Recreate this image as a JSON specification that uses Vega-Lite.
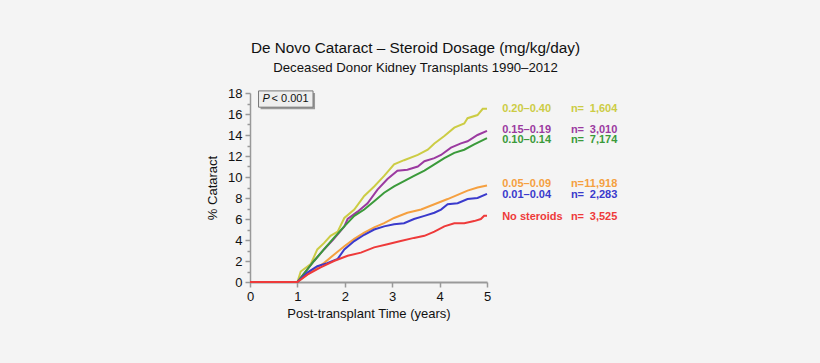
{
  "$schema": "https://vega.github.io/schema/vega-lite/v6.json",
  "width": 237,
  "height": 189,
  "autosize": {"type": "none"},
  "padding": {"left": 250, "top": 93, "right": 333, "bottom": 81},
  "background": "#f4f4f4",
  "config": {"font": "Liberation Sans", "view": {"stroke": null}},
  "title": {
    "text": "De Novo Cataract – Steroid Dosage (mg/kg/day)",
    "subtitle": "Deceased Donor Kidney Transplants 1990–2012",
    "fontSize": 15.3, "fontWeight": "normal", "color": "#111",
    "subtitleFontSize": 13.2, "subtitleColor": "#111", "subtitlePadding": 6,
    "anchor": "middle", "dx": 47, "offset": 13
  },
  "datasets": {
    "curves": [
      {"g": "0.20–0.40", "t": 0, "v": 0}, {"g": "0.20–0.40", "t": 1, "v": 0},
      {"g": "0.20–0.40", "t": 1.07, "v": 1.0}, {"g": "0.20–0.40", "t": 1.28, "v": 1.7},
      {"g": "0.20–0.40", "t": 1.42, "v": 3.1}, {"g": "0.20–0.40", "t": 1.56, "v": 3.7},
      {"g": "0.20–0.40", "t": 1.70, "v": 4.4}, {"g": "0.20–0.40", "t": 1.85, "v": 4.8},
      {"g": "0.20–0.40", "t": 1.99, "v": 6.1}, {"g": "0.20–0.40", "t": 2.20, "v": 6.9},
      {"g": "0.20–0.40", "t": 2.41, "v": 8.2}, {"g": "0.20–0.40", "t": 2.62, "v": 9.1},
      {"g": "0.20–0.40", "t": 2.83, "v": 10.1}, {"g": "0.20–0.40", "t": 3.04, "v": 11.2},
      {"g": "0.20–0.40", "t": 3.25, "v": 11.6}, {"g": "0.20–0.40", "t": 3.54, "v": 12.1},
      {"g": "0.20–0.40", "t": 3.75, "v": 12.6}, {"g": "0.20–0.40", "t": 3.89, "v": 13.2},
      {"g": "0.20–0.40", "t": 4.10, "v": 13.9}, {"g": "0.20–0.40", "t": 4.31, "v": 14.7},
      {"g": "0.20–0.40", "t": 4.52, "v": 15.1}, {"g": "0.20–0.40", "t": 4.59, "v": 15.6},
      {"g": "0.20–0.40", "t": 4.80, "v": 15.9}, {"g": "0.20–0.40", "t": 4.91, "v": 16.5},
      {"g": "0.20–0.40", "t": 5.0, "v": 16.5},
      {"g": "0.15–0.19", "t": 0, "v": 0}, {"g": "0.15–0.19", "t": 1, "v": 0},
      {"g": "0.15–0.19", "t": 1.35, "v": 2.0}, {"g": "0.15–0.19", "t": 1.56, "v": 3.1},
      {"g": "0.15–0.19", "t": 1.77, "v": 4.1}, {"g": "0.15–0.19", "t": 1.99, "v": 5.3},
      {"g": "0.15–0.19", "t": 2.06, "v": 6.0}, {"g": "0.15–0.19", "t": 2.27, "v": 6.7},
      {"g": "0.15–0.19", "t": 2.48, "v": 7.5}, {"g": "0.15–0.19", "t": 2.69, "v": 8.8},
      {"g": "0.15–0.19", "t": 2.90, "v": 9.8}, {"g": "0.15–0.19", "t": 3.11, "v": 10.6},
      {"g": "0.15–0.19", "t": 3.32, "v": 10.7}, {"g": "0.15–0.19", "t": 3.54, "v": 11.0},
      {"g": "0.15–0.19", "t": 3.68, "v": 11.5}, {"g": "0.15–0.19", "t": 3.89, "v": 11.8},
      {"g": "0.15–0.19", "t": 4.03, "v": 12.1}, {"g": "0.15–0.19", "t": 4.24, "v": 12.8},
      {"g": "0.15–0.19", "t": 4.45, "v": 13.2}, {"g": "0.15–0.19", "t": 4.59, "v": 13.4},
      {"g": "0.15–0.19", "t": 4.80, "v": 14.0}, {"g": "0.15–0.19", "t": 5.0, "v": 14.4},
      {"g": "0.10–0.14", "t": 0, "v": 0}, {"g": "0.10–0.14", "t": 1, "v": 0},
      {"g": "0.10–0.14", "t": 1.35, "v": 2.0}, {"g": "0.10–0.14", "t": 1.56, "v": 3.1},
      {"g": "0.10–0.14", "t": 1.77, "v": 4.2}, {"g": "0.10–0.14", "t": 1.99, "v": 5.3},
      {"g": "0.10–0.14", "t": 2.20, "v": 6.3}, {"g": "0.10–0.14", "t": 2.41, "v": 6.9},
      {"g": "0.10–0.14", "t": 2.62, "v": 7.7}, {"g": "0.10–0.14", "t": 2.83, "v": 8.5},
      {"g": "0.10–0.14", "t": 3.04, "v": 9.1}, {"g": "0.10–0.14", "t": 3.25, "v": 9.6},
      {"g": "0.10–0.14", "t": 3.46, "v": 10.1}, {"g": "0.10–0.14", "t": 3.68, "v": 10.6},
      {"g": "0.10–0.14", "t": 3.89, "v": 11.2}, {"g": "0.10–0.14", "t": 4.10, "v": 11.8},
      {"g": "0.10–0.14", "t": 4.31, "v": 12.3}, {"g": "0.10–0.14", "t": 4.52, "v": 12.6},
      {"g": "0.10–0.14", "t": 4.73, "v": 13.1}, {"g": "0.10–0.14", "t": 5.0, "v": 13.7},
      {"g": "0.05–0.09", "t": 0, "v": 0}, {"g": "0.05–0.09", "t": 1, "v": 0},
      {"g": "0.05–0.09", "t": 1.35, "v": 1.2}, {"g": "0.05–0.09", "t": 1.56, "v": 1.8},
      {"g": "0.05–0.09", "t": 1.77, "v": 2.6}, {"g": "0.05–0.09", "t": 1.99, "v": 3.4},
      {"g": "0.05–0.09", "t": 2.20, "v": 4.1}, {"g": "0.05–0.09", "t": 2.41, "v": 4.7},
      {"g": "0.05–0.09", "t": 2.62, "v": 5.2}, {"g": "0.05–0.09", "t": 2.83, "v": 5.6},
      {"g": "0.05–0.09", "t": 3.04, "v": 6.1}, {"g": "0.05–0.09", "t": 3.32, "v": 6.6},
      {"g": "0.05–0.09", "t": 3.61, "v": 6.9}, {"g": "0.05–0.09", "t": 3.89, "v": 7.4},
      {"g": "0.05–0.09", "t": 4.17, "v": 7.9}, {"g": "0.05–0.09", "t": 4.38, "v": 8.3},
      {"g": "0.05–0.09", "t": 4.59, "v": 8.7}, {"g": "0.05–0.09", "t": 4.80, "v": 9.0},
      {"g": "0.05–0.09", "t": 5.0, "v": 9.2},
      {"g": "0.01–0.04", "t": 0, "v": 0}, {"g": "0.01–0.04", "t": 1, "v": 0},
      {"g": "0.01–0.04", "t": 1.21, "v": 0.9}, {"g": "0.01–0.04", "t": 1.42, "v": 1.5},
      {"g": "0.01–0.04", "t": 1.63, "v": 1.8}, {"g": "0.01–0.04", "t": 1.85, "v": 2.2},
      {"g": "0.01–0.04", "t": 1.99, "v": 3.1}, {"g": "0.01–0.04", "t": 2.20, "v": 3.9},
      {"g": "0.01–0.04", "t": 2.41, "v": 4.5}, {"g": "0.01–0.04", "t": 2.62, "v": 5.0},
      {"g": "0.01–0.04", "t": 2.83, "v": 5.3}, {"g": "0.01–0.04", "t": 3.04, "v": 5.5},
      {"g": "0.01–0.04", "t": 3.25, "v": 5.6}, {"g": "0.01–0.04", "t": 3.46, "v": 6.0},
      {"g": "0.01–0.04", "t": 3.68, "v": 6.3}, {"g": "0.01–0.04", "t": 3.89, "v": 6.6},
      {"g": "0.01–0.04", "t": 4.03, "v": 6.9}, {"g": "0.01–0.04", "t": 4.17, "v": 7.4},
      {"g": "0.01–0.04", "t": 4.38, "v": 7.5}, {"g": "0.01–0.04", "t": 4.59, "v": 7.9},
      {"g": "0.01–0.04", "t": 4.80, "v": 8.0}, {"g": "0.01–0.04", "t": 5.0, "v": 8.4},
      {"g": "No steroids", "t": 0, "v": 0}, {"g": "No steroids", "t": 1, "v": 0},
      {"g": "No steroids", "t": 1.21, "v": 0.7}, {"g": "No steroids", "t": 1.49, "v": 1.4},
      {"g": "No steroids", "t": 1.77, "v": 2.0}, {"g": "No steroids", "t": 2.06, "v": 2.5},
      {"g": "No steroids", "t": 2.34, "v": 2.8}, {"g": "No steroids", "t": 2.62, "v": 3.3},
      {"g": "No steroids", "t": 2.90, "v": 3.6}, {"g": "No steroids", "t": 3.18, "v": 3.9},
      {"g": "No steroids", "t": 3.46, "v": 4.2}, {"g": "No steroids", "t": 3.68, "v": 4.4},
      {"g": "No steroids", "t": 3.89, "v": 4.8}, {"g": "No steroids", "t": 4.10, "v": 5.3},
      {"g": "No steroids", "t": 4.31, "v": 5.6}, {"g": "No steroids", "t": 4.52, "v": 5.6},
      {"g": "No steroids", "t": 4.73, "v": 5.8}, {"g": "No steroids", "t": 4.87, "v": 6.0},
      {"g": "No steroids", "t": 4.94, "v": 6.3}, {"g": "No steroids", "t": 5.0, "v": 6.3}
    ],
    "labels": [
      {"g": "0.20–0.40", "n": "1,604", "v": 16.5},
      {"g": "0.15–0.19", "n": "3,010", "v": 14.5},
      {"g": "0.10–0.14", "n": "7,174", "v": 13.5},
      {"g": "0.05–0.09", "n": "11,918", "v": 9.3},
      {"g": "0.01–0.04", "n": "2,283", "v": 8.3},
      {"g": "No steroids", "n": "3,525", "v": 6.2}
    ],
    "note": [{"t": 0.18, "t2": 1.33, "v": 18.2, "v2": 16.65, "vm": 17.45, "txt": "< 0.001"}]
  },
  "encoding": {
    "y": {
      "field": "v", "type": "quantitative",
      "scale": {"domain": [0, 18], "nice": false},
      "axis": {
        "title": "% Cataract",
        "titleFontSize": 13, "titleFontWeight": "normal", "titleColor": "#111", "titlePadding": 8,
        "values": [0, 1, 2, 3, 4, 5, 6, 7, 8, 9, 10, 11, 12, 13, 14, 15, 16, 17, 18],
        "labelExpr": "datum.value % 2 === 0 ? datum.label : ''",
        "tickSize": {"condition": {"test": "datum.value % 2 === 0", "value": 5}, "value": 3},
        "labelFontSize": 13,
        "labelColor": "#111", "labelPadding": 3, "labelOverlap": false, "labelBound": false,
        "domainColor": "#999", "tickColor": "#999", "domainWidth": 1.5, "tickWidth": 1.5,
        "grid": false, "labelFlush": false
      }
    },
    "color": {
      "field": "g", "type": "nominal", "legend": null,
      "scale": {
        "domain": ["0.20–0.40", "0.15–0.19", "0.10–0.14", "0.05–0.09", "0.01–0.04", "No steroids"],
        "range": ["#cccc44", "#9b3aa0", "#3a9a3a", "#f5a040", "#3a3acc", "#ee3a3a"]
      }
    }
  },
  "layer": [
    {
      "data": {"name": "curves"},
      "mark": {"type": "line", "strokeWidth": 2, "interpolate": "linear", "clip": false},
      "encoding": {
        "x": {
          "field": "t", "type": "quantitative",
          "scale": {"domain": [0, 5], "nice": false, "zero": false},
          "axis": {
            "title": "Post-transplant Time (years)",
            "titleFontSize": 13, "titleFontWeight": "normal", "titleColor": "#111", "titlePadding": 4,
            "values": [0, 0.25, 0.5, 0.75, 1, 1.25, 1.5, 1.75, 2, 2.25, 2.5, 2.75, 3, 3.25, 3.5, 3.75, 4, 4.25, 4.5, 4.75, 5],
            "format": "d",
            "labelExpr": "datum.value % 1 === 0 ? datum.label : ''",
            "tickSize": {"condition": {"test": "datum.value % 1 === 0", "value": 5}, "value": 3},
            "labelFontSize": 13,
            "labelColor": "#111", "labelPadding": 3, "labelOverlap": false, "labelBound": false,
            "domainColor": "#999", "tickColor": "#999", "domainWidth": 2, "tickWidth": 1.5,
            "grid": false, "labelFlush": false
          }
        }
      }
    },
    {
      "data": {"name": "labels"},
      "mark": {"type": "text", "align": "left", "baseline": "middle", "fontSize": 11, "fontWeight": "bold", "clip": false},
      "encoding": {
        "x": {"datum": 5.32, "type": "quantitative"},
        "text": {"field": "g"}
      }
    },
    {
      "data": {"name": "labels"},
      "mark": {"type": "text", "align": "left", "baseline": "middle", "fontSize": 11, "fontWeight": "bold", "clip": false},
      "encoding": {
        "x": {"datum": 6.77, "type": "quantitative"},
        "text": {"value": "n="}
      }
    },
    {
      "data": {"name": "labels"},
      "mark": {"type": "text", "align": "right", "baseline": "middle", "fontSize": 11, "fontWeight": "bold", "clip": false},
      "encoding": {
        "x": {"datum": 7.75, "type": "quantitative"},
        "text": {"field": "n"}
      }
    },
    {
      "data": {"name": "note"},
      "mark": {"type": "rect", "xOffset": 2, "yOffset": 2, "x2Offset": 2, "y2Offset": 2},
      "encoding": {
        "color": {"value": "#999"},
        "x": {"field": "t", "type": "quantitative"},
        "x2": {"field": "t2"},
        "y2": {"field": "v2"}
      }
    },
    {
      "data": {"name": "note"},
      "mark": {"type": "rect", "stroke": "#777", "strokeWidth": 1},
      "encoding": {
        "color": {"value": "#eeeeee"},
        "x": {"field": "t", "type": "quantitative"},
        "x2": {"field": "t2"},
        "y2": {"field": "v2"}
      }
    },
    {
      "data": {"name": "note"},
      "mark": {"type": "text", "align": "left", "baseline": "middle", "fontSize": 11, "dx": 4, "fontStyle": "italic"},
      "encoding": {
        "color": {"value": "#111"},
        "x": {"field": "t", "type": "quantitative"},
        "y": {"field": "vm", "type": "quantitative"},
        "text": {"value": "P"}
      }
    },
    {
      "data": {"name": "note"},
      "mark": {"type": "text", "align": "left", "baseline": "middle", "fontSize": 11, "dx": 13},
      "encoding": {
        "color": {"value": "#111"},
        "x": {"field": "t", "type": "quantitative"},
        "y": {"field": "vm", "type": "quantitative"},
        "text": {"field": "txt"}
      }
    }
  ]
}
